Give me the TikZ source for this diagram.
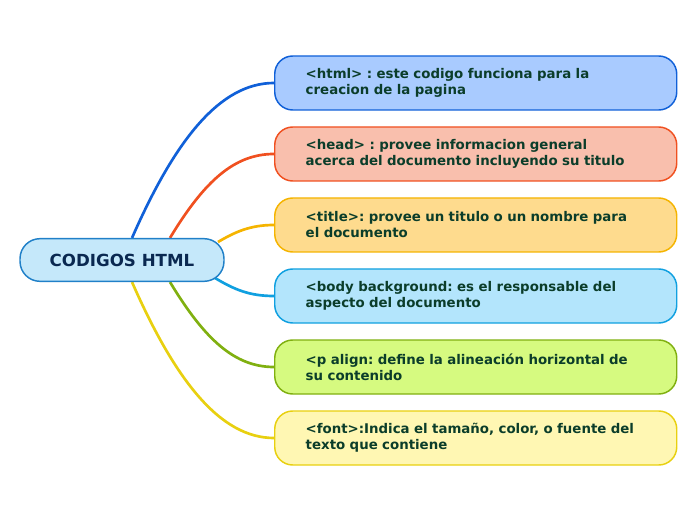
\documentclass[tikz,border=0pt]{standalone}
\usepackage{fontspec}
\setmainfont{DejaVu Sans}
\usetikzlibrary{backgrounds}
\frenchspacing
\begin{document}
\begin{tikzpicture}[x=0.75pt,y=-0.75pt,
  box/.style={rounded corners=13.5pt,line width=1.1pt,minimum height=40.5pt,text width=255pt,inner xsep=23.25pt,align=left,anchor=west,font=\bfseries\fontsize{10}{12}\selectfont,text=txt},
  link/.style={line width=2pt}]
\definecolor{txt}{HTML}{0B3D2A}
\definecolor{ctx}{HTML}{0A2850}
\definecolor{c1}{HTML}{1060D8}\definecolor{f1}{HTML}{A9CBFF}
\definecolor{c2}{HTML}{F05020}\definecolor{f2}{HTML}{F9BFAD}
\definecolor{c3}{HTML}{F5B400}\definecolor{f3}{HTML}{FEDB8E}
\definecolor{c4}{HTML}{10A0E0}\definecolor{f4}{HTML}{B3E5FC}
\definecolor{c5}{HTML}{80B010}\definecolor{f5}{HTML}{D6FA80}
\definecolor{c6}{HTML}{E8D010}\definecolor{f6}{HTML}{FFF7B3}
\definecolor{cc}{HTML}{2080C8}\definecolor{fc}{HTML}{C5E8FA}
\useasboundingbox (0,0) rectangle (696,520);
\node[draw=cc,fill=fc,rounded corners=15pt,line width=1.1pt,minimum width=153pt,minimum height=32pt,font=\bfseries\fontsize{12.5}{14}\selectfont,text=ctx] (c) at (122,260) {CODIGOS HTML};
\node[box,draw=c1,fill=f1] (n1) at (274,83) {<html> : este codigo funciona para la\\creacion de la pagina};
\node[box,draw=c2,fill=f2] (n2) at (274,154) {<head> : provee informacion general\\acerca del documento incluyendo su titulo};
\node[box,draw=c3,fill=f3] (n3) at (274,225) {<title>: provee un titulo o un nombre para\\el documento};
\node[box,draw=c4,fill=f4] (n4) at (274,296) {<body background: es el responsable del\\aspecto del documento};
\node[box,draw=c5,fill=f5] (n5) at (274,367) {<p align: define la alineación horizontal de\\su contenido};
\node[box,draw=c6,fill=f6] (n6) at (274,438) {<font>:Indica el tamaño, color, o fuente del\\texto que contiene};
\begin{scope}[on background layer]
\draw[link,c1] (c.north) ++(10,0) .. controls (175,140) and (220,83) .. (n1.west);
\draw[link,c2] (c.north) ++(48,0) .. controls (205,180) and (235,154) .. (n2.west);
\draw[link,c3] (218,242) .. controls (235,232) and (250,225) .. (n3.west);
\draw[link,c4] (215,278) .. controls (235,290) and (250,296) .. (n4.west);
\draw[link,c5] (c.south) ++(48,0) .. controls (205,340) and (235,367) .. (n5.west);
\draw[link,c6] (c.south) ++(10,0) .. controls (175,380) and (220,438) .. (n6.west);
\end{scope}
\end{tikzpicture}
\end{document}
